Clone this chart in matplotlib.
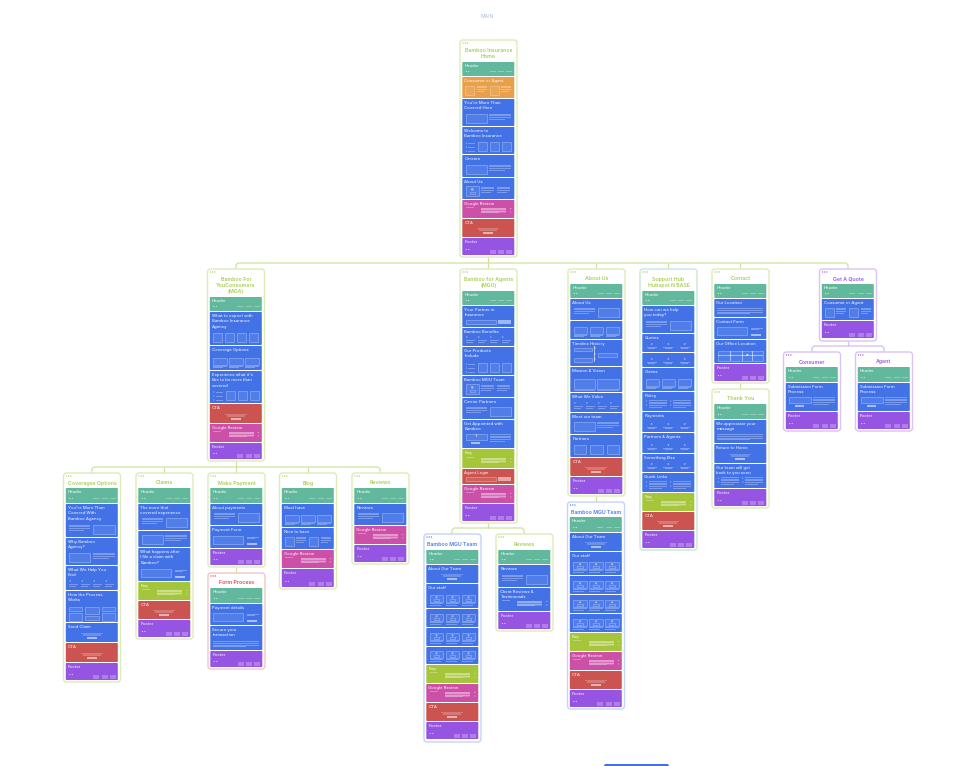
import matplotlib
matplotlib.use("Agg")
import matplotlib.pyplot as plt
from matplotlib.patches import FancyBboxPatch, Rectangle, Circle

plt.rcParams['font.family'] = ['Inter', 'DejaVu Sans']

# card titles
titles = ["Bamboo Insurance\nHome", "Bamboo For\nYouConsumers\n(MGA)", "Coverages Options", "Claims",
          "Make Payment", "Form Process", "Blog", "Reviews", "Bamboo for Agents\n(MGU)",
          "Bamboo MGU Team", "Reviews", "About Us", "Bamboo MGU Team", "Support Hub\nHubspot N BASE",
          "Contact", "Thank You", "Get A Quote", "Consumer", "Agent"]

# section label / wireframe kind, one list per card
home = [("Header", "head"), ("Consumer or Agent", "two"), ("You're More Than\nCovered Here", "imgl"),
        ("Welcome to\nBamboo Insurance", "list3"), ("Careers", "imgl"), ("About Us", "person"),
        ("Google Review", "review"), ("CTA", "cta"), ("Footer", "foot")]
mga = [("Header", "head"), ("What to expect with\nBamboo Insurance\nAgency", "cards4"), ("Coverage Options", "cards3"),
       ("Experience what it's\nlike to be more than\ncovered", "list3"), ("CTA", "cta"), ("Google Review", "review"),
       ("Footer", "foot")]
coverages = [("Header", "head"), ("You're More Than\nCovered With\nBamboo Agency", "imgr"), ("Why Bamboo\nAgency?", "imgl"),
             ("What We Help You\nFind", "icons4"), ("How the Process\nWorks", "masonry"), ("Send Claim", "ctaplain"),
             ("CTA", "cta"), ("Footer", "foot")]
claims = [("Header", "head"), ("The more that\ncovered experience", "imgr"), ("", "imgl"),
          ("What happens after\nI file a claim with\nBamboo?", "form"), ("Faq", "review"), ("CTA", "cta"), ("Footer", "foot")]
payment = [("Header", "head"), ("About payments", "imgr"), ("Payment Form", "form"), ("Footer", "foot")]
process = [("Header", "head"), ("Payment details", "form"), ("Secure your\ntransaction", "textfull"), ("Footer", "foot")]
blog = [("Header", "head"), ("Must have", "cards3"), ("Nice to have", "two"), ("Google Review", "review"), ("Footer", "foot")]
reviews = [("Header", "head"), ("Reviews", "imgr"), ("Google Review", "review"), ("Footer", "foot")]
agents = [("Header", "head"), ("Your Partner in\nInsurance", "login"), ("Bamboo Benefits", "icons4"),
          ("Our Products\nInclude", "list3"), ("Bamboo MGU Team", "person"), ("Carrier Partners", "imgr"),
          ("Get Appointed with\nBamboo", "formtext"), ("Faq", "review"), ("Agent Login", "login"),
          ("Google Review", "review"), ("Footer", "foot")]
mgu_team = [("Header", "head"), ("About Our Team", "ctaplain"), ("Our staff", "staff"), ("", "staff"), ("", "staff"),
            ("", "staff"), ("Faq", "review"), ("Google Review", "review"), ("CTA", "cta"), ("Footer", "foot")]
reviews2 = [("Header", "head"), ("Reviews", "imgr"), ("Client Reviews &\nTestimonials", "review"), ("Footer", "foot")]
about = [("Header", "head"), ("About Us", "imgr"), ("", "cards3"), ("Timeline History", "timeline"),
         ("Mission & Vision", "rects2"), ("What We Value", "icons4"), ("Meet our team", "imgl"),
         ("Partners", "carousel"), ("CTA", "cta"), ("Footer", "foot")]
support = [("Header", "head"), ("How can we help\nyou today?", "imgr"), ("Quotes", "icons3"), ("", "icons3"),
           ("Claims", "cards3"), ("Policy", "columns2"), ("Payments", "icons3"), ("Partners & Agents", "icons3"),
           ("Something Else", "icons3"), ("Quick Links", "columns2"), ("Faq", "review"), ("CTA", "cta"), ("Footer", "foot")]
contact = [("Header", "head"), ("Our Location", "textfull"), ("Contact Form", "form"), ("Our Office Location", "map"),
           ("Footer", "foot")]
thanks = [("Header", "head"), ("We appreciate your\nmessage", "textfull"), ("Return to Home", "ctaplain"),
          ("Our team will get\nback to you soon", "columns2"), ("Footer", "foot")]
quote = [("Header", "head"), ("Consumer or Agent", "two"), ("Footer", "foot")]
submit = [("Header", "head"), ("Submission Form\nProcess", "formtext"), ("Footer", "foot")]
sections = [home, mga, coverages, claims, payment, process, blog, reviews, agents, mgu_team, reviews2,
            about, mgu_team, support, contact, thanks, quote, submit, submit]

# layout, in picture pixels
card_left = [460, 207.5, 63.5, 136, 208, 208, 279.5, 352, 460, 424, 496, 568, 567.5, 640, 712, 712, 819.5, 783.5, 855.5]
card_top = [40, 269, 473, 473, 473, 573, 473, 473, 269, 534, 534, 269, 502, 269, 269, 389, 269, 352, 352]
card_bottom = [257, 461, 682, 639, 567, 669, 589, 564, 523, 742, 631, 496, 709, 550, 383, 508, 341, 431, 431]
section_edges = [
    [62, 77, 99, 127, 155, 178, 200, 219, 238, 255],
    [297, 312, 346, 371, 404, 424, 443, 459],
    [488, 504, 538, 566, 591, 623, 643, 663, 680],
    [488, 504, 531, 548, 582, 601, 620, 637],
    [488, 504, 526, 549, 565],
    [588, 604, 626, 651, 667],
    [488, 504, 528, 550, 569, 587],
    [488, 504, 526, 545, 562],
    [291, 306, 328, 347, 376, 398, 420, 449, 469, 485, 504, 521],
    [550, 565, 584, 609, 628, 647, 665, 684, 703, 722, 739],
    [550, 565, 588, 612, 629],
    [284, 299, 321, 340, 367, 393, 413, 435, 458, 477, 494],
    [517, 533, 552, 576, 595, 614, 633, 652, 671, 690, 707],
    [291, 306, 334, 353, 368, 392, 412, 433, 454, 473, 493, 512, 531, 548],
    [284, 299, 318, 340, 364, 381],
    [404, 420, 444, 464, 489, 506],
    [284, 299, 321, 338],
    [367, 383, 412, 429],
    [367, 383, 412, 429],
]
CARD_W = 57

GREEN = "#a6cf55"
border_colors = {5: "#f3c6c6", 9: "#c4d4f8", 12: "#c4d4f8", 13: "#c6e8dc", 16: "#d9c4f5", 17: "#d9c4f5", 18: "#d9c4f5"}
title_colors = {5: "#e2474d", 9: "#4a7ce8", 12: "#4a7ce8", 13: "#a6cf55", 16: "#9a56e2", 17: "#9a56e2", 18: "#9a56e2"}
fills = {"Header": "#62b89c", "Footer": "#9554e2", "Google Review": "#cc50a8", "CTA": "#cb5450",
         "Faq": "#a5c53a", "Agent Login": "#cb5450", "Consumer or Agent": "#4272e6"}
fills_home = "#e9a04a"
BLUE = "#4272e6"

fig = plt.figure(figsize=(9.63, 7.66), dpi=100)
ax = fig.add_axes([0, 0, 1, 1])
ax.set_xlim(0, 963)
ax.set_ylim(766, 0)
ax.axis("off")

W = "white"


def bar(x, y, w, h=1.0, a=0.3):
    ax.add_patch(Rectangle((x, y), w, h, fc=W, ec="none", alpha=a))


def box(x, y, w, h, a=0.38):
    ax.add_patch(Rectangle((x, y), w, h, fc=(1, 1, 1, 0.08), ec=(1, 1, 1, a), lw=0.5))


def dot(x, y, r=0.7, a=0.7):
    ax.add_patch(Circle((x, y), r, fc=W, ec="none", alpha=a))


def lines(x, y, w, n=3, step=1.7):
    for i in range(n):
        bar(x, y + i * step, w * (1 if i < n - 1 else 0.72))


def person(x, y, w, h):
    box(x, y, w, h)
    dot(x + w / 2, y + h * 0.36, min(w, h) * 0.14, 0.45)
    ax.add_patch(Rectangle((x + w * 0.3, y + h * 0.58), w * 0.4, h * 0.27, fc="none", ec=(1, 1, 1, 0.45), lw=0.4))


def wireframe(kind, x, top, bot):
    # x is the left of a 52 px wide section; everything sits against its bottom edge
    if kind == "head":
        dot(x + 4, bot - 4.5, 0.6); dot(x + 6.5, bot - 4.5, 0.6)
        for i in range(3):
            bar(x + 27.5 + i * 8.2, bot - 5, 6, 1.2)
    elif kind == "foot":
        dot(x + 4, bot - 5.5, 0.6); dot(x + 6.5, bot - 5.5, 0.6)
        for i in range(3):
            bar(x + 27.5 + i * 8.2, bot - 5.5, 6, 4, 0.25)
    elif kind == "two":
        for i in range(2):
            box(x + 3 + i * 24.5, bot - 12.5, 9, 9)
            lines(x + 14.5 + i * 24.5, bot - 12.5, 10, 4)
    elif kind in ("imgl", "imgr"):
        h = 9.5
        if kind == "imgl":
            box(x + 3.5, bot - h - 3, 21, h)
            lines(x + 27, bot - h - 3, 22, 4)
        else:
            lines(x + 3.5, bot - h - 3, 21, 4)
            box(x + 27.5, bot - h - 3, 21.5, h)
    elif kind == "list3":
        for i in range(3):
            dot(x + 4, bot - 11 + i * 4, 0.5)
            bar(x + 6, bot - 11.5 + i * 4, 7)
        for i in range(3):
            box(x + 16 + i * 12, bot - 12, 9, 9)
    elif kind == "cards4":
        for i in range(4):
            box(x + 3.5 + i * 12, bot - 12, 9, 9)
    elif kind == "cards3":
        for i in range(3):
            box(x + 3.5 + i * 16, bot - 12.5, 13.5, 7)
            bar(x + 3.5 + i * 16, bot - 4.5, 13.5)
            bar(x + 3.5 + i * 16, bot - 3, 10)
    elif kind == "person":
        person(x + 3.5, bot - 13, 13, 9.5)
        lines(x + 19, bot - 12.5, 13, 4)
        lines(x + 35, bot - 12.5, 13, 4)
    elif kind == "staff":
        for i in range(3):
            person(x + 3.5 + i * 16, bot - 13.5, 13.5, 7.5)
            bar(x + 3.5 + i * 16, bot - 5, 13.5)
            bar(x + 3.5 + i * 16, bot - 3.2, 11)
    elif kind == "review":
        bar(x + 3.5, bot - 11, 8)
        lines(x + 19, bot - 10.5, 25, 4, 1.6)
        bar(x + 19, bot - 10, 25, 5, 0.18)
        dot(x + 48.5, bot - 9.5, 0.5); dot(x + 48.5, bot - 6, 0.5)
    elif kind in ("cta", "ctaplain"):
        bar(x + 15, bot - 9.5, 22, 1.6, 0.22)
        bar(x + 17, bot - 8, 18, 1.6, 0.22)
        bar(x + 21, bot - 4.8, 10, 1.8, 0.55)
    elif kind == "icons4":
        for i in range(4):
            dot(x + 4.5 + i * 12, bot - 9, 0.6)
            bar(x + 3.5 + i * 12, bot - 6.5, 9)
            bar(x + 3.5 + i * 12, bot - 4.5, 7)
    elif kind == "icons3":
        for i in range(3):
            dot(x + 9.5 + i * 16.5, bot - 8, 0.7)
            bar(x + 4.5 + i * 16.5, bot - 5.5, 10)
            bar(x + 6 + i * 16.5, bot - 3.7, 7)
    elif kind == "form":
        box(x + 3, bot - 12.5, 30, 8.5)
        bar(x + 3, bot - 8.5, 30, 0.5, 0.5)
        bar(x + 17.5, bot - 12.5, 0.5, 4, 0.5)
        lines(x + 36.5, bot - 11.5, 12, 2)
        bar(x + 36.5, bot - 5, 10, 1.8, 0.55)
    elif kind == "formtext":
        box(x + 3.5, bot - 14.5, 21.5, 6.5)
        bar(x + 3.5, bot - 11.5, 21.5, 0.5, 0.5)
        bar(x + 14, bot - 14.5, 0.5, 3, 0.5)
        bar(x + 9, bot - 6, 9, 1.8, 0.55)
        lines(x + 27.5, bot - 14, 21.5, 5)
    elif kind == "login":
        box(x + 3.5, bot - 7, 30, 3.5)
        bar(x + 36, bot - 7, 13, 3.5, 0.5)
    elif kind == "textfull":
        lines(x + 3, bot - 9, 46, 4, 1.8)
    elif kind == "masonry":
        for i, (yy, hh) in enumerate([(-15, 4), (-9, 8)]):
            box(x + 3.5, bot + yy, 13, hh)
            box(x + 36, bot + yy, 13, hh)
        box(x + 19.5, bot - 15, 14, 6.5)
        box(x + 19.5, bot - 6.5, 14, 4)
    elif kind == "map":
        box(x + 3.5, bot - 12.5, 45, 10)
        bar(x + 3.5, bot - 8, 45, 0.5, 0.5)
        for off in (16, 28, 38):
            bar(x + off, bot - 12.5, 0.5, 10, 0.5)
        dot(x + 33, bot - 8, 1.0, 0.8)
    elif kind == "timeline":
        box(x + 4, bot - 18.5, 18, 3.5)
        box(x + 4, bot - 8, 18, 3.5)
        box(x + 28, bot - 13, 19, 3.5)
        bar(x + 24, bot - 20, 0.6, 16, 0.6)
        for off in (-18, -12, -7):
            dot(x + 24.5, bot + off, 0.7)
    elif kind == "rects2":
        box(x + 3.5, bot - 13, 21, 9.5)
        box(x + 27, bot - 13, 21.5, 9.5)
        bar(x + 3.5, bot - 2.5, 21)
        bar(x + 27, bot - 2.5, 21.5)
    elif kind == "carousel":
        box(x + 3.5, bot - 12, 12.5, 9)
        box(x + 19.5, bot - 12, 13.5, 9)
        box(x + 36.5, bot - 12, 12.5, 9)
    elif kind == "columns2":
        dot(x + 4, bot - 10, 0.5); dot(x + 4, bot - 6, 0.5)
        lines(x + 6.5, bot - 11, 18, 5, 1.7)
        dot(x + 28.5, bot - 10, 0.5); dot(x + 28.5, bot - 6, 0.5)
        lines(x + 30.5, bot - 11, 18, 5, 1.7)


def link(points, color):
    xs, ys = zip(*points)
    ax.plot(xs, ys, color=color, lw=0.9, solid_joinstyle="round", solid_capstyle="butt", zorder=0.5)


# connectors first, so that the cards sit on top
LINK = "#cfe3a0"
link([(488, 257), (488, 263)], LINK)
link([(236, 269), (236, 265), (238, 263), (846, 263), (848, 265), (848, 269)], LINK)
for cx in (488, 596, 668, 740):
    link([(cx, 263), (cx, 269)], LINK)
link([(236, 461), (236, 467)], LINK)
link([(92, 473), (92, 469), (94, 467), (378, 467), (380, 469), (380, 473)], LINK)
for cx in (164, 236, 308):
    link([(cx, 467), (cx, 473)], LINK)
link([(488, 523), (488, 528)], LINK)
link([(452, 534), (452, 530), (454, 528), (522, 528), (524, 530), (524, 534)], LINK)
link([(236, 567), (236, 573)], LINK)
link([(596, 496), (596, 502)], LINK)
link([(740, 383), (740, 389)], LINK)
PURPLE_LINK = "#d4bdf3"
link([(848, 341), (848, 346)], PURPLE_LINK)
link([(812, 352), (812, 348), (814, 346), (882, 346), (884, 348), (884, 352)], PURPLE_LINK)

for n, title in enumerate(titles):
    left, top, bottom = card_left[n], card_top[n], card_bottom[n]
    ax.add_patch(FancyBboxPatch((left, top), CARD_W, bottom - top, boxstyle="round,pad=0,rounding_size=3",
                                fc="white", ec=border_colors.get(n, "#dcebb8"), lw=1.0))
    tc = title_colors.get(n, GREEN)
    for k in range(3):
        ax.add_patch(Circle((left + 3 + k * 2.2, top + 3), 0.65, fc=tc, ec="none"))
    edges = section_edges[n]
    ax.text(left + CARD_W / 2, (top + 4 + edges[0]) / 2 + 0.5, title, ha="center", va="center", fontsize=3.75,
            fontweight="semibold", color=tc, linespacing=1.3)
    for j, (label, kind) in enumerate(sections[n]):
        t, b = edges[j], edges[j + 1] - (1 if j < len(sections[n]) - 1 else 0)
        fc = fills.get(label, BLUE)
        if n == 0 and label == "Consumer or Agent":
            fc = fills_home
        ax.add_patch(FancyBboxPatch((left + 2.3, t), CARD_W - 5, b - t, boxstyle="round,pad=0,rounding_size=0.8",
                                    fc=fc, ec="none"))
        wireframe(kind, left + 2.3, t, b)
        if label:
            ax.text(left + 4.5, t + 1.8, label, ha="left", va="top", fontsize=3.05, fontweight="medium",
                    color=(1, 1, 1, 0.85), linespacing=1.5)

ax.text(487.5, 16.5, "MAIN", ha="center", va="center", fontsize=3.6, color="#a9b8d6")

# start of the next board, cut off by the lower edge
ax.add_patch(FancyBboxPatch((604, 764), 65, 10, boxstyle="round,pad=0,rounding_size=2", fc="#3f72e6", ec="none"))

fig.savefig("out.png", dpi=100)
